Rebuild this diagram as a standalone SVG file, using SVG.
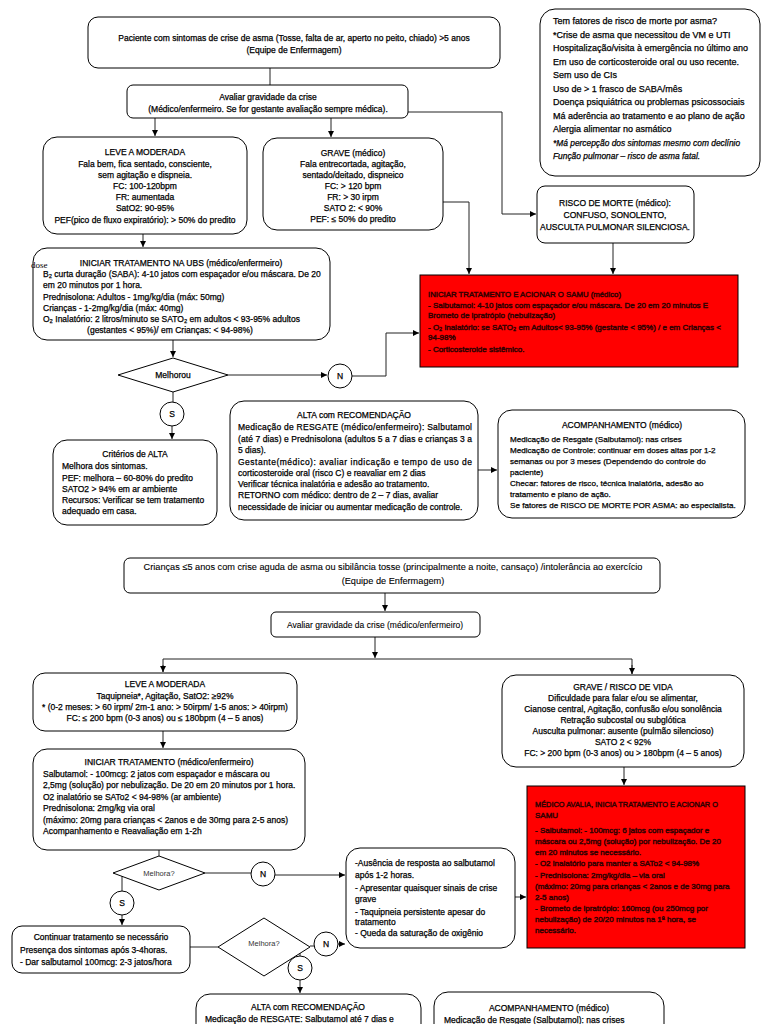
<svg xmlns="http://www.w3.org/2000/svg" width="768" height="1024" viewBox="0 0 768 1024">
<style>
.b{fill:#fff;stroke:#000;stroke-width:1}
.r{fill:#ff0000;stroke:#000;stroke-width:1}
.c{fill:none;stroke:#222;stroke-width:1}
text{font-family:"Liberation Sans Narrow","Liberation Sans",Arial,sans-serif;font-size:8.5px;fill:#000;stroke:#000;stroke-width:0.25}
.m{text-anchor:middle}
.rt{fill:#300000;stroke:#300000;stroke-width:0.45;font-size:8px}
.it{font-style:italic;font-size:8.4px}
.lg{font-size:9px}
.ac{font-size:8.1px}
.sr{font-family:"Liberation Serif",serif;font-size:9px;stroke:none}
.d{font-size:7.5px;fill:#333;stroke:none}
.cr{font-size:9.2px;stroke-width:0.1}
</style>
<defs>
<marker id="a" viewBox="0 0 6 6" refX="6" refY="3" markerWidth="6" markerHeight="6" markerUnits="userSpaceOnUse" orient="auto"><path d="M0,0 L6,3 L0,6 z" fill="#000"/></marker>
</defs>
<rect width="768" height="1024" fill="#fff"/>
<g id="connectors">
<path class="c" d="M270,68 V85"/>
<path class="c" d="M155,118 V136" marker-end="url(#a)"/>
<path class="c" d="M331,118 V137" marker-end="url(#a)"/>
<path class="c" d="M408,112 H502 V214 H536" marker-end="url(#a)"/>
<path class="c" d="M443,202 H469 V274" marker-end="url(#a)"/>
<path class="c" d="M613,243 V274" marker-end="url(#a)"/>
<path class="c" d="M143,234 V247" marker-end="url(#a)"/>
<path class="c" d="M173,340 V357" marker-end="url(#a)"/>
<path class="c" d="M228,375 H327" marker-end="url(#a)"/>
<path class="c" d="M352,376 H386 V333 H419" marker-end="url(#a)"/>
<path class="c" d="M173,392 V402"/>
<path class="c" d="M172,426 V439" marker-end="url(#a)"/>
<path class="c" d="M478,470 H497" marker-end="url(#a)"/>
<path class="c" d="M385,593 V611" marker-end="url(#a)"/>
<path class="c" d="M375,637 V658" marker-end="url(#a)"/>
<path class="c" d="M163,672 V659 H632 V674"/>
<path class="c" d="M163,665 V672" marker-end="url(#a)"/>
<path class="c" d="M632,665 V674" marker-end="url(#a)"/>
<path class="c" d="M163,731 V748" marker-end="url(#a)"/>
<path class="c" d="M159,850 V856"/>
<path class="c" d="M205,873 H251"/>
<path class="c" d="M275,875 H345" marker-end="url(#a)"/>
<path class="c" d="M122,876 V891"/>
<path class="c" d="M122,915 V925" marker-end="url(#a)"/>
<path class="c" d="M190,947 H218"/>
<path class="c" d="M310,946 H314"/>
<path class="c" d="M338,944 H345" marker-end="url(#a)"/>
<path class="c" d="M300,953 V956"/>
<path class="c" d="M300,980 V993" marker-end="url(#a)"/>
<path class="c" d="M515,897 H526" marker-end="url(#a)"/>
<path class="c" d="M624,767 V785" marker-end="url(#a)"/>
</g>
<g id="n-paciente">
<rect class="b" x="88" y="17" width="412" height="51" rx="10"/>
<text class="m" x="294" y="41">Paciente com sintomas de crise de asma (Tosse, falta de ar, aperto no peito, chiado) &gt;5 anos</text>
<text class="m" x="294" y="53">(Equipe de Enfermagem)</text>
</g>
<g id="n-fatores">
<rect class="b" x="540" y="9" width="220" height="167" rx="15"/>
<text class="lg" x="553" y="24">Tem fatores de risco de morte por asma?</text>
<text class="lg" x="553" y="37.5">*Crise de asma que necessitou de VM e UTI</text>
<text class="lg" x="553" y="51">Hospitalização/visita à emergência no último ano</text>
<text class="lg" x="553" y="64.5">Em uso de corticosteroide oral ou uso recente.</text>
<text class="lg" x="553" y="78">Sem uso de CIs</text>
<text class="lg" x="553" y="91.5">Uso de &gt; 1 frasco de SABA/mês</text>
<text class="lg" x="553" y="105">Doença psiquiátrica ou problemas psicossociais</text>
<text class="lg" x="553" y="118.5">Má aderência ao tratamento e ao plano de ação</text>
<text class="lg" x="553" y="132">Alergia alimentar no asmático</text>
<text class="it" x="553" y="145.5">*Má percepção dos sintomas mesmo com declínio</text>
<text class="it" x="553" y="159">Função pulmonar – risco de asma fatal.</text>
</g>
<g id="n-avaliar1">
<rect class="b" x="127" y="85" width="281" height="33" rx="6"/>
<text class="m" x="268" y="100">Avaliar gravidade da crise</text>
<text class="m" x="268" y="112">(Médico/enfermeiro. Se for gestante avaliação sempre médica).</text>
</g>
<g id="n-leve1">
<rect class="b" x="43" y="137" width="204" height="97" rx="14"/>
<text class="m" x="145" y="155">LEVE A MODERADA</text>
<text class="m" x="145" y="167">Fala bem, fica sentado, consciente,</text>
<text class="m" x="145" y="178">sem agitação e dispneia.</text>
<text class="m" x="145" y="189">FC: 100-120bpm</text>
<text class="m" x="145" y="200">FR: aumentada</text>
<text class="m" x="145" y="211">SatO2: 90-95%</text>
<text class="m" x="145" y="223">PEF(pico de fluxo expiratório): &gt; 50% do predito</text>
</g>
<g id="n-grave1">
<rect class="b" x="263" y="138" width="180" height="92" rx="14"/>
<text class="m" x="353" y="156">GRAVE (médico)</text>
<text class="m" x="353" y="167">Fala entrecortada, agitação,</text>
<text class="m" x="353" y="178">sentado/deitado, dispneico</text>
<text class="m" x="353" y="189">FC: &gt; 120 bpm</text>
<text class="m" x="353" y="200">FR: &gt; 30 irpm</text>
<text class="m" x="353" y="211">SATO 2: &lt; 90%</text>
<text class="m" x="353" y="222">PEF: ≤ 50% do predito</text>
</g>
<g id="n-risco">
<rect class="b" x="537" y="186" width="157" height="57" rx="8"/>
<text class="m" x="615" y="206">RISCO DE MORTE (médico):</text>
<text class="m" x="615" y="218">CONFUSO, SONOLENTO,</text>
<text class="m" x="615" y="230">AUSCULTA PULMONAR SILENCIOSA.</text>
</g>
<g id="n-iniciar1">
<rect class="b" x="33" y="248" width="297" height="92" rx="14"/>
<text class="sr" x="31" y="268">dose</text>
<text class="m" x="181" y="266">INICIAR TRATAMENTO NA UBS (médico/enfermeiro)</text>
<text x="43" y="277">B₂ curta duração (SABA): 4-10 jatos com espaçador e/ou máscara. De 20</text>
<text x="43" y="288">em 20 minutos por 1 hora.</text>
<text x="43" y="300">Prednisolona: Adultos - 1mg/kg/dia  (máx: 50mg)</text>
<text x="43" y="311">Crianças - 1-2mg/kg/dia  (máx: 40mg)</text>
<text x="43" y="322">O₂ Inalatório: 2 litros/minuto se SATO₂ em adultos &lt; 93-95% adultos</text>
<text class="m" x="170" y="333">(gestantes &lt; 95%)/ em Crianças: &lt; 94-98%)</text>
</g>
<g id="n-samu1">
<rect class="r" x="420" y="275" width="318" height="92"/>
<text class="rt" x="428" y="297" textLength="193" lengthAdjust="spacingAndGlyphs">INICIAR TRATAMENTO E ACIONAR O SAMU (médico)</text>
<text class="rt" x="428" y="308">- Salbutamol: 4-10 jatos com espaçador e/ou máscara. De 20 em 20 minutos E</text>
<text class="rt" x="428" y="318">Brometo de ipratrópio (nebulização)</text>
<text class="rt" x="428" y="330">- O₂ inalatório: se SATO₂ em Adultos&lt; 93-95% (gestante &lt; 95%) / e em Crianças &lt;</text>
<text class="rt" x="428" y="340">94-98%</text>
<text class="rt" x="428" y="352">- Corticosteroide sistêmico.</text>
</g>
<g id="n-melhorou">
<polygon class="b" points="118,375 173,358 228,375 173,392"/>
<text class="m" x="173" y="378">Melhorou</text>
</g>
<g id="n-n1">
<circle class="b" cx="340" cy="376" r="12"/>
<text class="m" x="340" y="379">N</text>
</g>
<g id="n-s1">
<circle class="b" cx="172" cy="414" r="12"/>
<text class="m" x="172" y="417">S</text>
</g>
<g id="n-criterios">
<rect class="b" x="53" y="440" width="164" height="85" rx="14"/>
<text class="m" x="135" y="457">Critérios de ALTA</text>
<text x="62" y="469">Melhora dos sintomas.</text>
<text x="62" y="481">PEF: melhora – 60-80% do predito</text>
<text x="62" y="492">SATO2 &gt; 94% em ar ambiente</text>
<text x="62" y="503">Recursos: Verificar se tem tratamento</text>
<text x="62" y="514">adequado em casa.</text>
</g>
<g id="n-alta1">
<rect class="b" x="230" y="401" width="248" height="119" rx="14"/>
<text class="m" x="354" y="418">ALTA com RECOMENDAÇÃO</text>
<text x="238" y="430" textLength="234" lengthAdjust="spacing">Medicação de RESGATE (médico/enfermeiro): Salbutamol</text>
<text x="238" y="442" textLength="234" lengthAdjust="spacing">(até 7 dias) e Prednisolona (adultos 5 a 7 dias e crianças 3 a</text>
<text x="238" y="453">5 dias).</text>
<text x="238" y="465" textLength="234" lengthAdjust="spacing">Gestante(médico): avaliar indicação e tempo de uso de</text>
<text x="238" y="476">corticosteroide oral (risco C) e reavaliar em 2 dias</text>
<text x="238" y="487">Verificar técnica inalatória e adesão ao tratamento.</text>
<text x="238" y="498">RETORNO com médico: dentro de 2 – 7 dias, avaliar</text>
<text x="238" y="510">necessidade de iniciar ou aumentar medicação de controle.</text>
</g>
<g id="n-acomp1">
<rect class="b" x="498" y="410" width="247" height="108" rx="14"/>
<text class="m" x="622" y="428">ACOMPANHAMENTO (médico)</text>
<text class="ac" x="510" y="442">Medicação de Resgate (Salbutamol): nas crises</text>
<text class="ac" x="510" y="453">Medicação de Controle: continuar em doses altas por 1-2</text>
<text class="ac" x="510" y="464">semanas ou por 3 meses (Dependendo do controle do</text>
<text class="ac" x="510" y="475">paciente)</text>
<text class="ac" x="510" y="486">Checar: fatores de risco, técnica inalatória, adesão ao</text>
<text class="ac" x="510" y="497">tratamento e plano de ação.</text>
<text class="ac" x="510" y="508">Se fatores de RISCO DE MORTE POR ASMA: ao especialista.</text>
</g>
<g id="n-criancas">
<rect class="b" x="124" y="558" width="536" height="35" rx="6"/>
<text class="m cr" x="393" y="570">Crianças ≤5 anos com crise aguda de asma ou sibilância tosse (principalmente a noite, cansaço) /intolerância ao exercício</text>
<text class="m cr" x="393" y="584">(Equipe de Enfermagem)</text>
</g>
<g id="n-avaliar2">
<rect class="b" x="271" y="612" width="209" height="25" rx="5"/>
<text class="m cr" x="375" y="628" style="font-size:8.5px">Avaliar gravidade da crise (médico/enfermeiro)</text>
</g>
<g id="n-leve2">
<rect class="b" x="33" y="673" width="264" height="58" rx="12"/>
<text class="m" x="165" y="687">LEVE A MODERADA</text>
<text class="m" x="165" y="699">Taquipneia*, Agitação, SatO2: ≥92%</text>
<text class="m" x="165" y="710">* (0-2 meses: &gt; 60 irpm/ 2m-1 ano: &gt; 50irpm/ 1-5 anos: &gt; 40irpm)</text>
<text class="m" x="165" y="721">FC: ≤ 200 bpm (0-3 anos) ou ≤ 180bpm (4 – 5 anos)</text>
</g>
<g id="n-grave2">
<rect class="b" x="502" y="675" width="242" height="92" rx="14"/>
<text class="m" x="623" y="690">GRAVE / RISCO DE VIDA</text>
<text class="m" x="623" y="701">Dificuldade para falar e/ou se alimentar,</text>
<text class="m" x="623" y="712">Cianose central, Agitação, confusão e/ou sonolência</text>
<text class="m" x="623" y="723">Retração subcostal ou subglótica</text>
<text class="m" x="623" y="734">Ausculta pulmonar: ausente (pulmão silencioso)</text>
<text class="m" x="623" y="745">SATO 2 &lt; 92%</text>
<text class="m" x="623" y="756">FC: &gt; 200 bpm (0-3 anos) ou &gt; 180bpm (4 – 5 anos)</text>
</g>
<g id="n-iniciar2">
<rect class="b" x="33" y="749" width="272" height="101" rx="14"/>
<text class="m" x="169" y="765">INICIAR TRATAMENTO (médico/enfermeiro)</text>
<text x="43" y="777">Salbutamol: -  100mcg: 2 jatos com espaçador e máscara ou</text>
<text x="43" y="788">2,5mg (solução) por nebulização. De 20 em 20 minutos por 1 hora.</text>
<text x="43" y="800">O2 inalatório se SATo2 &lt; 94-98% (ar ambiente)</text>
<text x="43" y="811">Prednisolona: 2mg/kg via oral</text>
<text x="43" y="823">(máximo: 20mg para crianças &lt; 2anos e de 30mg para 2-5 anos)</text>
<text x="43" y="834">Acompanhamento e Reavaliação em 1-2h</text>
</g>
<g id="n-samu2">
<rect class="r" x="527" y="786" width="218" height="162"/>
<text class="rt" x="535" y="807" textLength="183" lengthAdjust="spacingAndGlyphs">MÉDICO AVALIA, INICIA TRATAMENTO E ACIONAR O</text>
<text class="rt" x="535" y="818">SAMU</text>
<text class="rt" x="535" y="833">- Salbutamol: - 100mcg: 6 jatos com espaçador e</text>
<text class="rt" x="535" y="844">máscara ou 2,5mg (solução) por nebulização. De 20</text>
<text class="rt" x="535" y="855">em 20 minutos se necessário.</text>
<text class="rt" x="535" y="866">- O2 inalatório para manter a SATo2 &lt; 94-98%</text>
<text class="rt" x="535" y="878">- Prednisolona: 2mg/kg/dia – via oral</text>
<text class="rt" x="535" y="889">(máximo: 20mg para crianças &lt; 2anos e de 30mg para</text>
<text class="rt" x="535" y="900">2-5 anos)</text>
<text class="rt" x="535" y="911">- Brometo de ipratrópio: 160mcg (ou 250mcg por</text>
<text class="rt" x="535" y="922">nebulização) de 20/20 minutos na 1ª  hora, se</text>
<text class="rt" x="535" y="933">necessário.</text>
</g>
<g id="n-melhora1">
<polygon class="b" points="113,873 159,856 205,873 159,890"/>
<text class="m d" x="159" y="876">Melhora?</text>
</g>
<g id="n-n2">
<circle class="b" cx="263" cy="874" r="12"/>
<text class="m" x="263" y="877">N</text>
</g>
<g id="n-s2">
<circle class="b" cx="122" cy="903" r="12"/>
<text class="m" x="122" y="906">S</text>
</g>
<g id="n-ausencia">
<rect class="b" x="346" y="848" width="169" height="100" rx="14"/>
<text x="355" y="866">-Ausência de resposta ao salbutamol</text>
<text x="355" y="878">após 1-2 horas.</text>
<text x="355" y="891">-  Apresentar quaisquer sinais de crise</text>
<text x="355" y="902">grave</text>
<text x="355" y="915">-   Taquipneia persistente apesar do</text>
<text x="355" y="925">tratamento</text>
<text x="355" y="936">- Queda da saturação de oxigênio</text>
</g>
<g id="n-continuar">
<rect class="b" x="12" y="926" width="178" height="47" rx="10"/>
<text class="m" x="101" y="940">Continuar tratamento se necessário</text>
<text x="20" y="953">Presença dos sintomas após 3-4horas.</text>
<text x="20" y="965">- Dar salbutamol 100mcg: 2-3 jatos/hora</text>
</g>
<g id="n-melhora2">
<polygon class="b" points="218,947 264,918 310,947 264,976"/>
<text class="m d" x="264" y="946">Melhora?</text>
</g>
<g id="n-n3">
<circle class="b" cx="326" cy="944" r="12"/>
<text class="m" x="326" y="947">N</text>
</g>
<g id="n-s3">
<circle class="b" cx="300" cy="968" r="12"/>
<text class="m" x="300" y="971">S</text>
</g>
<g id="n-alta2">
<rect class="b" x="196" y="994" width="225" height="44" rx="14"/>
<text class="m" x="308" y="1010">ALTA com RECOMENDAÇÃO</text>
<text x="205" y="1022">Medicação de RESGATE: Salbutamol até 7 dias e</text>
</g>
<g id="n-acomp2">
<rect class="b" x="434" y="992" width="230" height="46" rx="14"/>
<text class="m" x="549" y="1011">ACOMPANHAMENTO (médico)</text>
<text x="444" y="1023">Medicação de Resgate (Salbutamol): nas crises</text>
</g>
</svg>
